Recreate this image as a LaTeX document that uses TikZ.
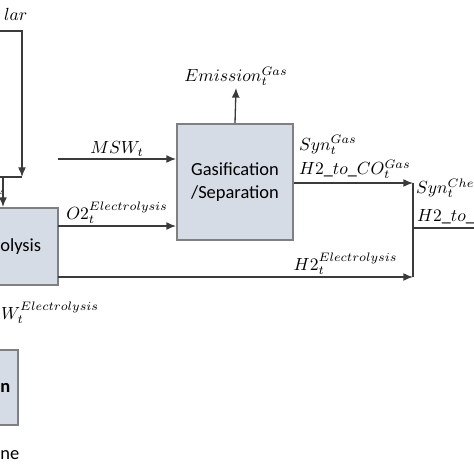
\documentclass[tikz,border=0pt]{standalone}
\usepackage{amsmath}
\usepackage{fontspec}
\setmainfont{Carlito}
\usepackage{tikz}
\usetikzlibrary{arrows.meta, positioning, calc}

\definecolor{boxfill}{HTML}{D6DCE5}
\definecolor{boxline}{HTML}{808080}
\definecolor{flowline}{HTML}{3A3A3A}

\begin{document}
\begin{tikzpicture}[
    proc/.style={rectangle, draw=boxline, fill=boxfill, line width=1.1pt, align=center, font=\fontsize{10.5}{13}\selectfont},
    lbl/.style={inner sep=1pt, font=\fontsize{10.3}{12}\selectfont},
    txt/.style={inner sep=0pt, font=\fontsize{10.5}{13}\selectfont},
    arrow/.style={draw=flowline, line width=0.75pt, -{Latex[length=5.5pt, width=4.5pt]}},
    flow/.style={draw=flowline, line width=0.75pt}
]
\useasboundingbox (0,0) rectangle (9.48,-9.48);

% process boxes
\node (gas) [proc, minimum width=2.32cm, minimum height=2.32cm] at (4.70,-3.64) {Gasification\\/Separation};
\node (elec) [proc, minimum width=1.26cm, minimum height=1.54cm] at (0.53,-4.93) {};
\node (store) [proc, minimum width=0.46cm, minimum height=1.50cm] at (0.13,-7.75) {};

% texts cut at the edges
\node (lartxt) [lbl, anchor=west] at (0.04,-0.28) {$lar$};
\node (stxt) [inner sep=0pt, anchor=west, font=\tiny] at (-0.02,-3.86) {$s$};
\node (electxt) [txt, anchor=west] at (0.0,-4.94) {olysis};
\node (pwtxt) [lbl, anchor=west] at (-0.02,-6.26) {$W_t^{Electrolysis}$};
\node (storetxt) [txt, anchor=west, font=\fontsize{10.5}{13}\selectfont\bfseries] at (0.0,-7.76) {n};
\node (netxt) [txt, anchor=west] at (0.0,-9.10) {ne};

% coordinates
\coordinate (topin) at (-0.10,-0.62);
\coordinate (busL) at (-0.10,-3.54);
\coordinate (busR) at (0.44,-3.54);
\coordinate (busD) at (0.06,-3.54);
\coordinate (msw) at (1.16,-3.18);
\coordinate (o2) at (1.16,-4.52);
\coordinate (h2) at (1.16,-5.54);
\coordinate (mixT) at (8.26,-3.66);
\coordinate (mixB) at (8.26,-5.54);
\coordinate (mixO) at (8.26,-4.56);
\coordinate (chemout) at (9.60,-4.56);

% feed from the top
\draw [arrow] (topin) -| (busR);
\draw [flow] (busL) -- (busR);
\draw [arrow] (busD) -- (busD |- elec.north);

% streams into gasification
\draw [arrow] (msw) -- node[lbl, above] {$MSW_t$} (msw -| gas.west);
\draw [arrow] (o2) -- node[lbl, above] {$O2_t^{Electrolysis}$} (o2 -| gas.west);

% emission
\node (emis) [lbl, anchor=south] at (4.72,-1.76) {$Emission_t^{Gas}$};
\draw [arrow] (gas.north) -- (emis.south);

% syngas to mixing
\draw [arrow] (gas.east |- mixT) -- (mixT);
\node (h2co) [lbl, anchor=south west] at ($(gas.east |- mixT)+(0.06,0.04)$) {$H2\_to\_CO_t^{Gas}$};
\node (syngas) [lbl, anchor=south west] at ($(h2co.north west)+(0,0.02)$) {$Syn_t^{Gas}$};

% hydrogen to mixing
\draw [arrow] (h2) -- node[lbl, above, pos=0.81] {$H2_t^{Electrolysis}$} (mixB);
\draw [flow] (mixT) -- (mixB);

% chemical syngas out
\draw [flow] (mixO) -- (chemout);
\node (synchem) [lbl, anchor=south west] at (8.28,-4.00) {$Syn_t^{Chem}$};
\node (h2cochem) [lbl, anchor=south west] at (8.30,-4.52) {$H2\_to\_C$};

\end{tikzpicture}
\end{document}
